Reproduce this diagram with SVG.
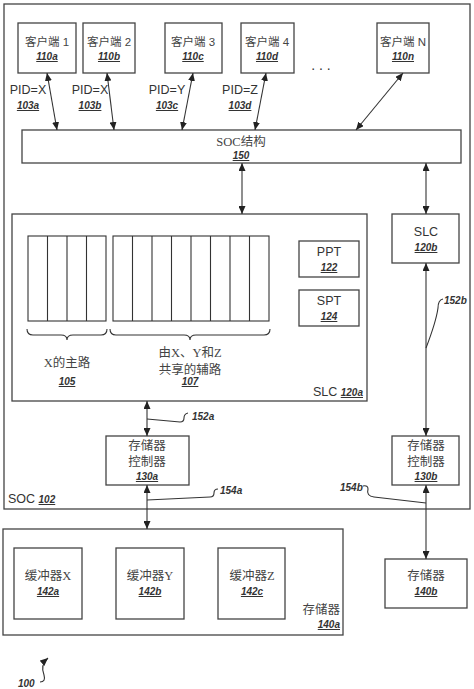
<svg xmlns="http://www.w3.org/2000/svg" width="474" height="689" viewBox="0 0 474 689">
<defs>
<marker id="ah" markerWidth="8" markerHeight="7" refX="8" refY="3.5" orient="auto-start-reverse" markerUnits="userSpaceOnUse">
<path d="M0,0 L8,3.5 L0,7 z" fill="#222"/>
</marker>
<style>
.box{fill:#fff;stroke:#444;stroke-width:1.3}
.ln{fill:none;stroke:#333;stroke-width:1.1}
.cn{font-family:"Liberation Serif","Noto Sans CJK SC",serif;font-size:12.5px;fill:#444;text-anchor:middle}
.sn{font-family:"Liberation Sans",Arial,sans-serif;font-size:12.5px;fill:#333;text-anchor:middle}
.rf{font-family:"Liberation Sans",Arial,sans-serif;font-size:10px;font-weight:bold;font-style:italic;fill:#333;text-anchor:middle;text-decoration:underline}
.rl{font-family:"Liberation Sans",Arial,sans-serif;font-size:10px;font-weight:bold;font-style:italic;fill:#333}
.d{font-family:"Liberation Sans",Arial,sans-serif}
.cl{font-size:11.5px}
</style>
</defs>
<rect id="soc" class="box" x="4" y="4" width="466" height="505" fill="none"/>
<text class="sn" x="8" y="503" style="text-anchor:start">SOC <tspan class="rl" style="text-decoration:underline">102</tspan></text>

<g id="client1"><rect class="box" x="18" y="23" width="58" height="50"/><text class="cn cl" x="47" y="46">客户端<tspan class="d"> 1</tspan></text><text class="rf" x="47" y="60">110a</text></g>
<g id="client2"><rect class="box" x="83" y="23" width="52" height="50"/><text class="cn cl" x="109" y="46">客户端<tspan class="d"> 2</tspan></text><text class="rf" x="109" y="60">110b</text></g>
<g id="client3"><rect class="box" x="165" y="23" width="57" height="50"/><text class="cn cl" x="193" y="46">客户端<tspan class="d"> 3</tspan></text><text class="rf" x="193" y="60">110c</text></g>
<g id="client4"><rect class="box" x="241" y="23" width="53" height="50"/><text class="cn cl" x="267" y="46">客户端<tspan class="d"> 4</tspan></text><text class="rf" x="267" y="60">110d</text></g>
<g id="clientN"><rect class="box" x="377" y="23" width="52" height="50"/><text class="cn cl" x="403" y="46">客户端<tspan class="d"> N</tspan></text><text class="rf" x="403" y="60">110n</text></g>
<text class="sn" x="321" y="70" style="font-size:14px">. . .</text>

<g id="pids">
<text class="sn" x="28" y="94">PID=X</text><text class="rf" x="28" y="109">103a</text>
<text class="sn" x="90" y="94">PID=X</text><text class="rf" x="90" y="109">103b</text>
<text class="sn" x="167" y="94">PID=Y</text><text class="rf" x="167" y="109">103c</text>
<text class="sn" x="240" y="94">PID=Z</text><text class="rf" x="240" y="109">103d</text>
</g>

<g id="fabric"><rect class="box" x="22" y="130" width="439" height="33"/><text class="cn" x="241" y="146">SOC结构</text><text class="rf" x="241" y="159">150</text></g>

<g id="slc120a">
<rect class="box" x="12" y="214" width="355" height="187"/>
<g class="ln">
<rect x="28" y="236" width="78" height="85"/>
<path d="M47.5,236V321M67,236V321M86.5,236V321"/>
<rect x="113" y="236" width="156" height="85"/>
<path d="M132.5,236V321M152,236V321M171.5,236V321M191,236V321M210.5,236V321M230,236V321M249.5,236V321"/>
<path d="M27,329 Q27,335 33,335 L61,335 Q67,335 67,340 Q67,335 73,335 L101,335 Q107,335 107,329"/>
<path d="M110,329 Q110,335 116,335 L184,335 Q190,335 190,340 Q190,335 196,335 L264,335 Q270,335 270,329"/>
</g>
<text class="cn" x="67" y="367">X的主路</text><text class="rf" x="67" y="385">105</text>
<text class="cn" x="190" y="357">由X、Y和Z</text><text class="cn" x="190" y="374">共享的辅路</text><text class="rf" x="190" y="385">107</text>
<text class="sn" x="363" y="396" style="text-anchor:end">SLC <tspan class="rl" style="text-decoration:underline">120a</tspan></text>
</g>
<g id="ppt"><rect class="box" x="299" y="241" width="60" height="36"/><text class="sn" x="329" y="256">PPT</text><text class="rf" x="329" y="271">122</text></g>
<g id="spt"><rect class="box" x="299" y="290" width="60" height="36"/><text class="sn" x="329" y="305">SPT</text><text class="rf" x="329" y="320">124</text></g>

<g id="slc120b"><rect class="box" x="392" y="214" width="67" height="49"/><text class="sn" x="426" y="236">SLC</text><text class="rf" x="426" y="251">120b</text></g>

<g id="mc130a"><rect class="box" x="106" y="436" width="83" height="49"/><text class="cn" x="147" y="450">存储器</text><text class="cn" x="147" y="466">控制器</text><text class="rf" x="147" y="480">130a</text></g>
<g id="mc130b"><rect class="box" x="392" y="436" width="67" height="49"/><text class="cn" x="426" y="450">存储器</text><text class="cn" x="426" y="466">控制器</text><text class="rf" x="426" y="480">130b</text></g>

<g id="mem140a">
<rect class="box" x="3" y="529" width="340" height="106"/>
<text class="cn" x="340" y="614" style="text-anchor:end">存储器</text>
<text class="rl" x="340" y="628" style="text-anchor:end;text-decoration:underline">140a</text>
</g>
<g id="buf142a"><rect class="box" x="14" y="548" width="68" height="71"/><text class="cn" x="48" y="580">缓冲器X</text><text class="rf" x="48" y="595">142a</text></g>
<g id="buf142b"><rect class="box" x="116" y="548" width="68" height="71"/><text class="cn" x="150" y="580">缓冲器Y</text><text class="rf" x="150" y="595">142b</text></g>
<g id="buf142c"><rect class="box" x="218" y="548" width="67" height="71"/><text class="cn" x="252" y="580">缓冲器Z</text><text class="rf" x="252" y="595">142c</text></g>

<g id="mem140b"><rect class="box" x="385" y="559" width="82" height="49"/><text class="cn" x="426" y="580">存储器</text><text class="rf" x="426" y="595">140b</text></g>

<g id="connectors" class="ln">
<path d="M47,73 L57,130" marker-start="url(#ah)" marker-end="url(#ah)"/>
<path d="M107,73 L114,130" marker-start="url(#ah)" marker-end="url(#ah)"/>
<path d="M193,73 L182,130" marker-start="url(#ah)" marker-end="url(#ah)"/>
<path d="M266,73 L255,130" marker-start="url(#ah)" marker-end="url(#ah)"/>
<path d="M403,73 L356,130" marker-start="url(#ah)" marker-end="url(#ah)"/>
<path d="M242,163 L242,214" marker-start="url(#ah)" marker-end="url(#ah)"/>
<path d="M426,163 L426,214" marker-start="url(#ah)" marker-end="url(#ah)"/>
<path d="M426,263 L426,436" marker-start="url(#ah)" marker-end="url(#ah)"/>
<path d="M147,401 L147,436" marker-start="url(#ah)" marker-end="url(#ah)"/>
<path d="M147,485 L147,529" marker-start="url(#ah)" marker-end="url(#ah)"/>
<path d="M426,485 L426,559" marker-start="url(#ah)" marker-end="url(#ah)"/>
<path d="M147,419 L180,422 Q184,422 184,418 Q184,414 188,413"/>
<path d="M147,500 L210,497 Q214,497 214,493 Q214,489 218,489"/>
<path d="M363,486 Q368,485 368,489 Q366,496 374,497 L426,503"/>
<path d="M426,348 Q436,322 438,308 Q438,300 443,299"/>
<path d="M40,682 Q46,682 44,675 Q40,665 48,658" marker-end="url(#ah)"/>
</g>
<text class="rl" x="192" y="420">152a</text>
<text class="rl" x="220" y="494">154a</text>
<text class="rl" x="340" y="491">154b</text>
<text class="rl" x="444" y="304">152b</text>
<text class="rl" x="18" y="687">100</text>
</svg>
